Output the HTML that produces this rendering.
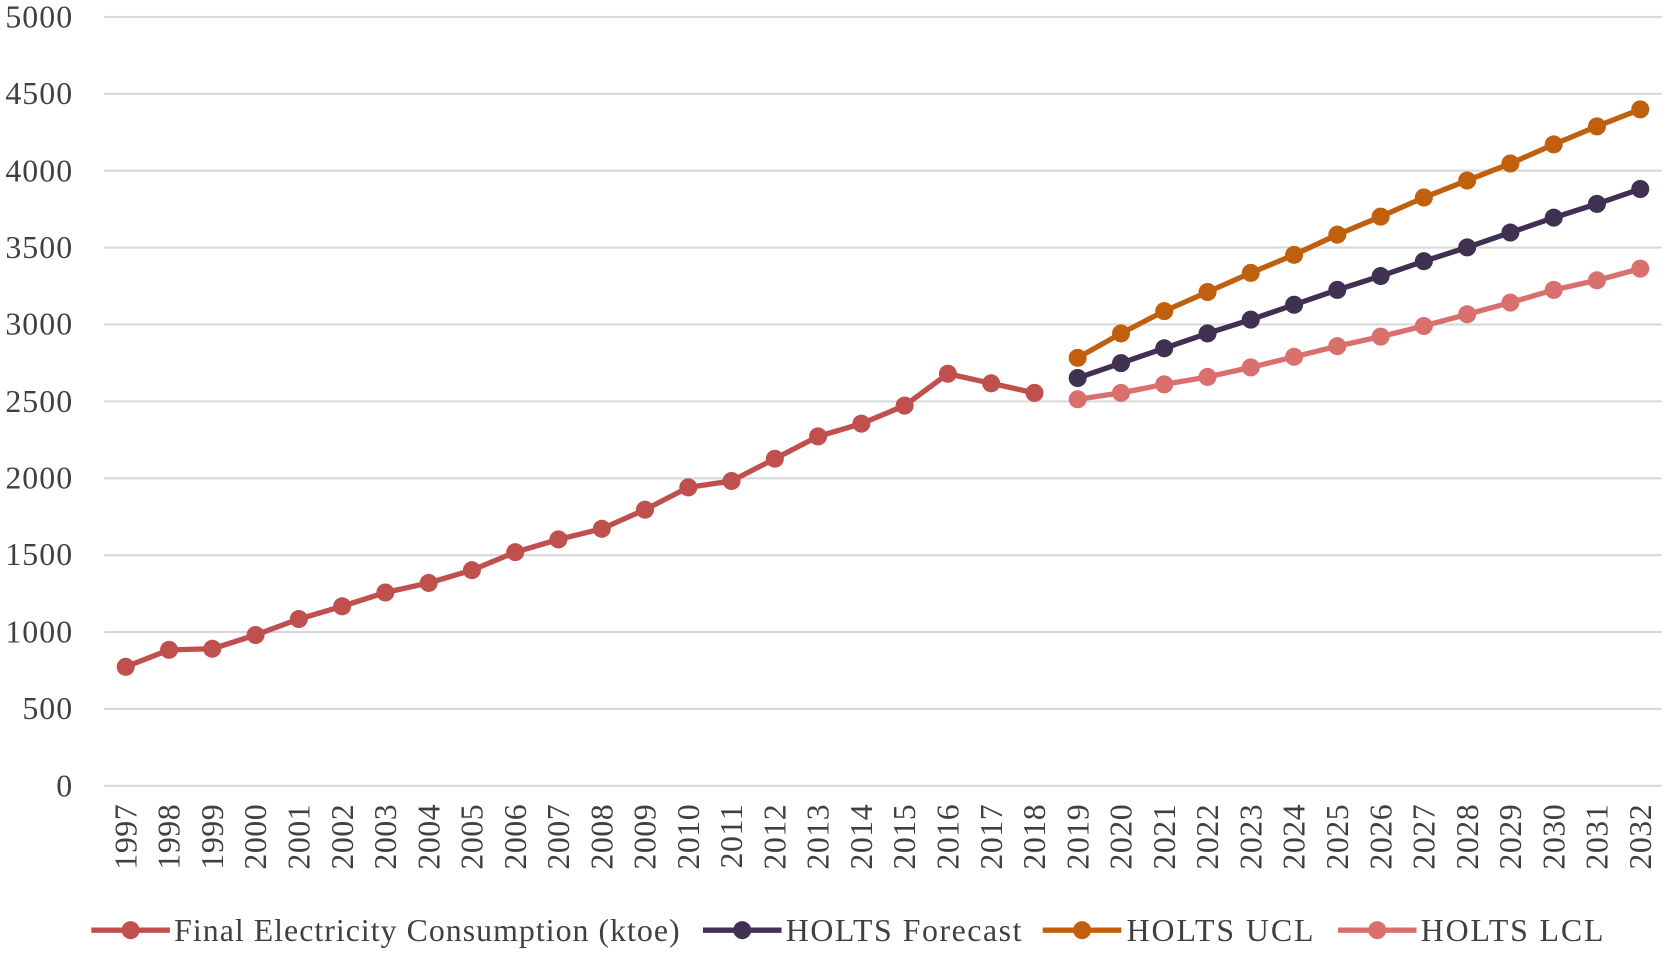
<!DOCTYPE html>
<html><head><style>
html,body{margin:0;padding:0;background:#fff;}
svg{display:block;}
text{font-family:"Liberation Serif",serif;fill:#404040;}
</style></head><body>
<svg width="1665" height="953" viewBox="0 0 1568 897.5" preserveAspectRatio="none" xmlns="http://www.w3.org/2000/svg">
<g stroke="#d9d9d9" stroke-width="2">
<line x1="98" x2="1565" y1="16" y2="16"/><line x1="98" x2="1565" y1="88.4" y2="88.4"/>
<line x1="98" x2="1565" y1="160.8" y2="160.8"/><line x1="98" x2="1565" y1="233.2" y2="233.2"/>
<line x1="98" x2="1565" y1="305.6" y2="305.6"/><line x1="98" x2="1565" y1="378" y2="378"/>
<line x1="98" x2="1565" y1="450.4" y2="450.4"/><line x1="98" x2="1565" y1="522.8" y2="522.8"/>
<line x1="98" x2="1565" y1="595.2" y2="595.2"/><line x1="98" x2="1565" y1="667.6" y2="667.6"/>
<line x1="98" x2="1565" y1="740" y2="740"/>
</g>
<g font-size="30" text-anchor="end" letter-spacing="1">
<text x="69" y="26">5000</text><text x="69" y="98">4500</text><text x="69" y="171">4000</text>
<text x="69" y="243">3500</text><text x="69" y="315">3000</text><text x="69" y="388">2500</text>
<text x="69" y="460">2000</text><text x="69" y="532">1500</text><text x="69" y="605">1000</text>
<text x="69" y="677">500</text><text x="69" y="750">0</text>
</g>
<g font-size="30" text-anchor="end" letter-spacing="0.5">
<text transform="translate(128.4,757) rotate(-90)">1997</text>
<text transform="translate(169.2,757) rotate(-90)">1998</text>
<text transform="translate(209.9,757) rotate(-90)">1999</text>
<text transform="translate(250.7,757) rotate(-90)">2000</text>
<text transform="translate(291.4,757) rotate(-90)">2001</text>
<text transform="translate(332.2,757) rotate(-90)">2002</text>
<text transform="translate(372.9,757) rotate(-90)">2003</text>
<text transform="translate(413.7,757) rotate(-90)">2004</text>
<text transform="translate(454.4,757) rotate(-90)">2005</text>
<text transform="translate(495.2,757) rotate(-90)">2006</text>
<text transform="translate(535.9,757) rotate(-90)">2007</text>
<text transform="translate(576.7,757) rotate(-90)">2008</text>
<text transform="translate(617.4,757) rotate(-90)">2009</text>
<text transform="translate(658.2,757) rotate(-90)">2010</text>
<text transform="translate(698.9,757) rotate(-90)">2011</text>
<text transform="translate(739.7,757) rotate(-90)">2012</text>
<text transform="translate(780.4,757) rotate(-90)">2013</text>
<text transform="translate(821.2,757) rotate(-90)">2014</text>
<text transform="translate(861.9,757) rotate(-90)">2015</text>
<text transform="translate(902.7,757) rotate(-90)">2016</text>
<text transform="translate(943.4,757) rotate(-90)">2017</text>
<text transform="translate(984.2,757) rotate(-90)">2018</text>
<text transform="translate(1024.9,757) rotate(-90)">2019</text>
<text transform="translate(1065.7,757) rotate(-90)">2020</text>
<text transform="translate(1106.4,757) rotate(-90)">2021</text>
<text transform="translate(1147.2,757) rotate(-90)">2022</text>
<text transform="translate(1187.9,757) rotate(-90)">2023</text>
<text transform="translate(1228.7,757) rotate(-90)">2024</text>
<text transform="translate(1269.4,757) rotate(-90)">2025</text>
<text transform="translate(1310.2,757) rotate(-90)">2026</text>
<text transform="translate(1350.9,757) rotate(-90)">2027</text>
<text transform="translate(1391.7,757) rotate(-90)">2028</text>
<text transform="translate(1432.4,757) rotate(-90)">2029</text>
<text transform="translate(1473.2,757) rotate(-90)">2030</text>
<text transform="translate(1513.9,757) rotate(-90)">2031</text>
<text transform="translate(1554.7,757) rotate(-90)">2032</text>
</g>
<g fill="none" stroke-width="5" stroke-linejoin="round">
<polyline stroke="#c0504d" points="118.4,628 159.2,612 199.9,611 240.7,598 281.4,583 322.2,571 362.9,558 403.7,549 444.4,537 485.2,520 525.9,508 566.7,498 607.4,480 648.2,459 688.9,453 729.7,432 770.4,411 811.2,399 851.9,382 892.7,352 933.4,361 974.2,370"/>
<polyline stroke="#403152" points="1014.9,356 1055.7,342 1096.4,328 1137.2,314 1177.9,301 1218.7,287 1259.4,273 1300.2,260 1340.9,246 1381.7,233 1422.4,219 1463.2,205 1503.9,192 1544.7,178"/>
<polyline stroke="#c0600e" points="1014.9,337 1055.7,314 1096.4,293 1137.2,275 1177.9,257 1218.7,240 1259.4,221 1300.2,204 1340.9,186 1381.7,170 1422.4,154 1463.2,136 1503.9,119 1544.7,103"/>
<polyline stroke="#d9706e" points="1014.9,376 1055.7,370 1096.4,362 1137.2,355 1177.9,346 1218.7,336 1259.4,326 1300.2,317 1340.9,307 1381.7,296 1422.4,285 1463.2,273 1503.9,264 1544.7,253"/>
</g>
<g fill="#c0504d">
<circle cx="118.4" cy="628" r="8.5"/><circle cx="159.2" cy="612" r="8.5"/><circle cx="199.9" cy="611" r="8.5"/><circle cx="240.7" cy="598" r="8.5"/><circle cx="281.4" cy="583" r="8.5"/><circle cx="322.2" cy="571" r="8.5"/><circle cx="362.9" cy="558" r="8.5"/><circle cx="403.7" cy="549" r="8.5"/><circle cx="444.4" cy="537" r="8.5"/><circle cx="485.2" cy="520" r="8.5"/><circle cx="525.9" cy="508" r="8.5"/><circle cx="566.7" cy="498" r="8.5"/><circle cx="607.4" cy="480" r="8.5"/><circle cx="648.2" cy="459" r="8.5"/><circle cx="688.9" cy="453" r="8.5"/><circle cx="729.7" cy="432" r="8.5"/><circle cx="770.4" cy="411" r="8.5"/><circle cx="811.2" cy="399" r="8.5"/><circle cx="851.9" cy="382" r="8.5"/><circle cx="892.7" cy="352" r="8.5"/><circle cx="933.4" cy="361" r="8.5"/><circle cx="974.2" cy="370" r="8.5"/>
</g>
<g fill="#403152">
<circle cx="1014.9" cy="356" r="8.5"/><circle cx="1055.7" cy="342" r="8.5"/><circle cx="1096.4" cy="328" r="8.5"/><circle cx="1137.2" cy="314" r="8.5"/><circle cx="1177.9" cy="301" r="8.5"/><circle cx="1218.7" cy="287" r="8.5"/><circle cx="1259.4" cy="273" r="8.5"/><circle cx="1300.2" cy="260" r="8.5"/><circle cx="1340.9" cy="246" r="8.5"/><circle cx="1381.7" cy="233" r="8.5"/><circle cx="1422.4" cy="219" r="8.5"/><circle cx="1463.2" cy="205" r="8.5"/><circle cx="1503.9" cy="192" r="8.5"/><circle cx="1544.7" cy="178" r="8.5"/>
</g>
<g fill="#c0600e">
<circle cx="1014.9" cy="337" r="8.5"/><circle cx="1055.7" cy="314" r="8.5"/><circle cx="1096.4" cy="293" r="8.5"/><circle cx="1137.2" cy="275" r="8.5"/><circle cx="1177.9" cy="257" r="8.5"/><circle cx="1218.7" cy="240" r="8.5"/><circle cx="1259.4" cy="221" r="8.5"/><circle cx="1300.2" cy="204" r="8.5"/><circle cx="1340.9" cy="186" r="8.5"/><circle cx="1381.7" cy="170" r="8.5"/><circle cx="1422.4" cy="154" r="8.5"/><circle cx="1463.2" cy="136" r="8.5"/><circle cx="1503.9" cy="119" r="8.5"/><circle cx="1544.7" cy="103" r="8.5"/>
</g>
<g fill="#d9706e">
<circle cx="1014.9" cy="376" r="8.5"/><circle cx="1055.7" cy="370" r="8.5"/><circle cx="1096.4" cy="362" r="8.5"/><circle cx="1137.2" cy="355" r="8.5"/><circle cx="1177.9" cy="346" r="8.5"/><circle cx="1218.7" cy="336" r="8.5"/><circle cx="1259.4" cy="326" r="8.5"/><circle cx="1300.2" cy="317" r="8.5"/><circle cx="1340.9" cy="307" r="8.5"/><circle cx="1381.7" cy="296" r="8.5"/><circle cx="1422.4" cy="285" r="8.5"/><circle cx="1463.2" cy="273" r="8.5"/><circle cx="1503.9" cy="264" r="8.5"/><circle cx="1544.7" cy="253" r="8.5"/>
</g>
<g font-size="30">
<line x1="86" x2="160" y1="876" y2="876" stroke="#c0504d" stroke-width="5"/><circle cx="123" cy="876" r="8.5" fill="#c0504d"/>
<text x="164" y="886" textLength="476" lengthAdjust="spacing">Final Electricity Consumption (ktoe)</text>
<line x1="662" x2="736" y1="876" y2="876" stroke="#403152" stroke-width="5"/><circle cx="699" cy="876" r="8.5" fill="#403152"/>
<text x="740" y="886" textLength="222" lengthAdjust="spacing">HOLTS Forecast</text>
<line x1="982" x2="1056" y1="876" y2="876" stroke="#c0600e" stroke-width="5"/><circle cx="1019" cy="876" r="8.5" fill="#c0600e"/>
<text x="1061" y="886" textLength="176" lengthAdjust="spacing">HOLTS UCL</text>
<line x1="1260" x2="1334" y1="876" y2="876" stroke="#d9706e" stroke-width="5"/><circle cx="1297" cy="876" r="8.5" fill="#d9706e"/>
<text x="1338" y="886" textLength="172" lengthAdjust="spacing">HOLTS LCL</text>
</g>
</svg>
</body></html>
